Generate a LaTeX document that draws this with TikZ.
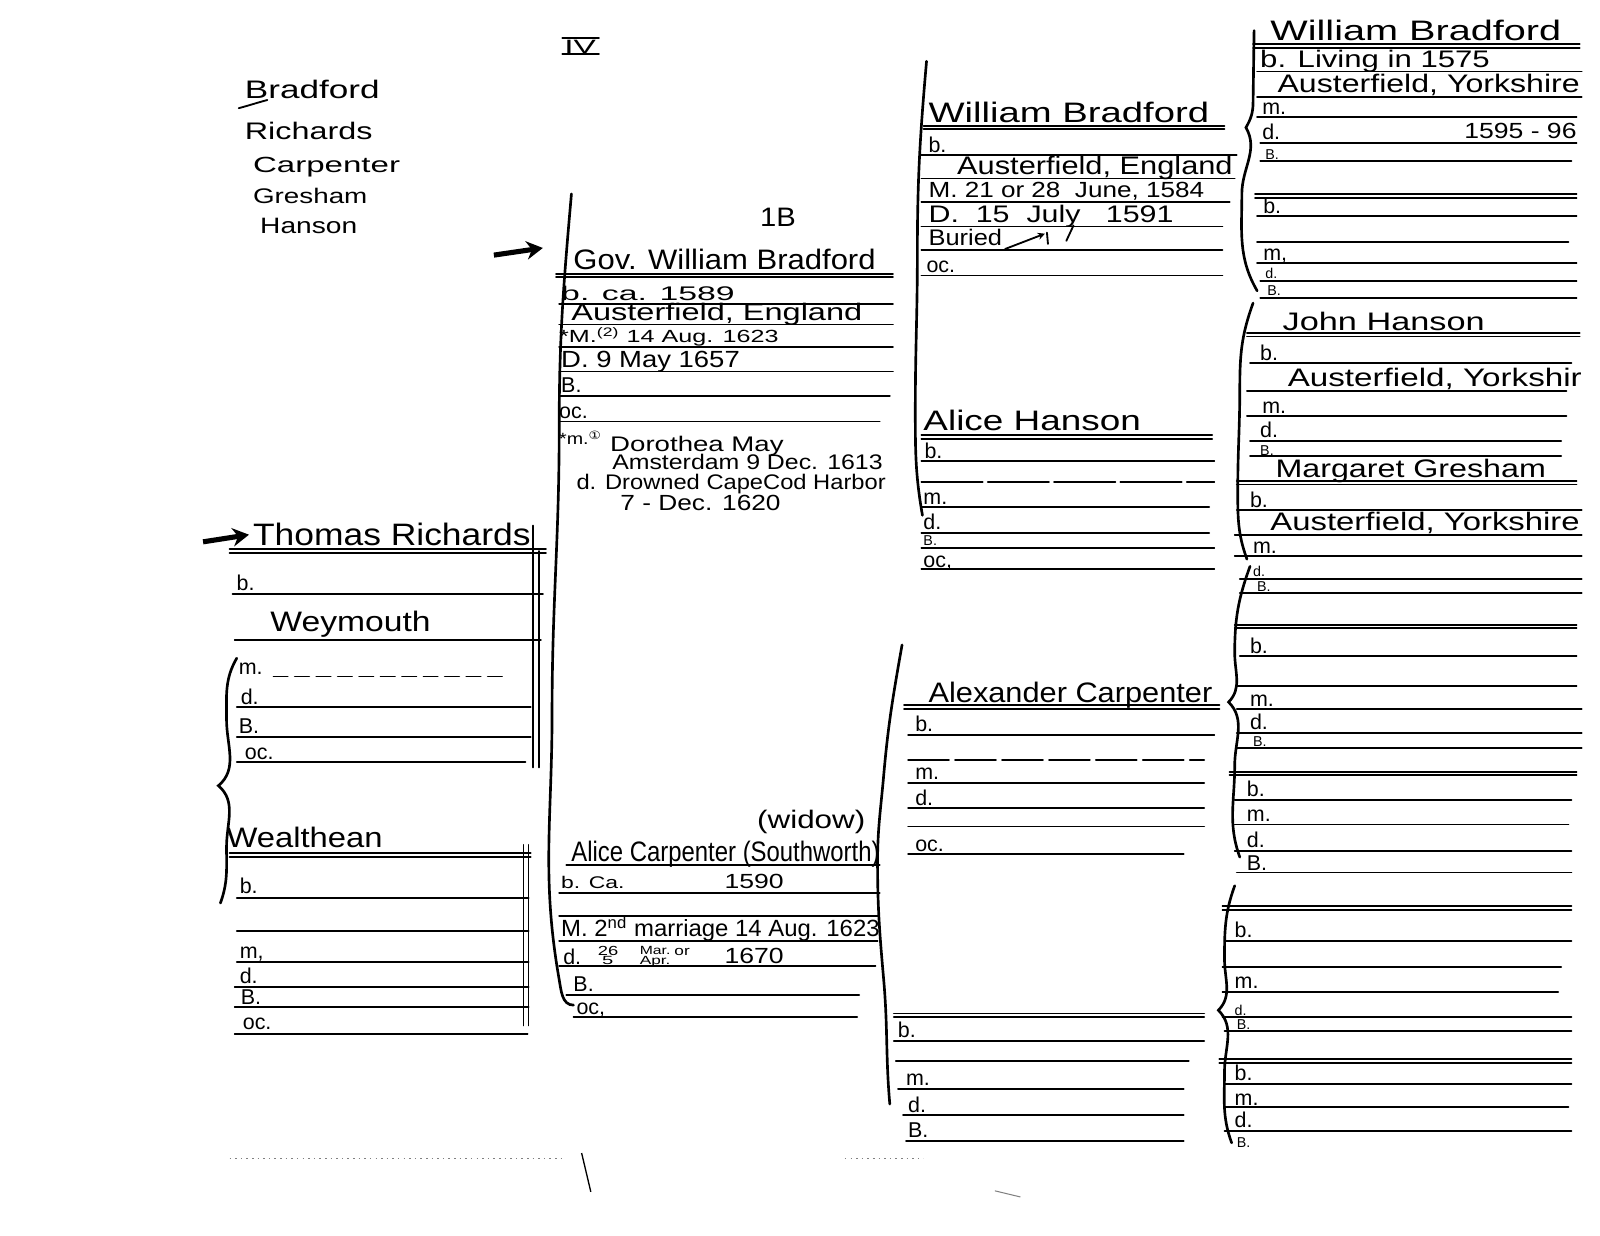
\documentclass[tikz,border=0pt]{standalone}
\usepackage{fontspec}
\usepackage{graphicx}
\setmainfont{Liberation Sans}
\newfontfamily\symf{DejaVu Sans}
\usetikzlibrary{arrows.meta}
\tikzset{
  pfrule/.style={line width=1.8pt, line cap=round, black},
  pfbrk/.style={line width=2.6pt, line cap=round, black},
  pfhw/.style={anchor=base west, inner sep=0pt, outer sep=0pt},
  pflb/.style={anchor=base west, inner sep=0pt, outer sep=0pt, font=\fontsize{21}{21}\selectfont},
  pflbs/.style={anchor=base west, inner sep=0pt, outer sep=0pt, font=\fontsize{14}{14}\selectfont},
  pfarrow/.style={line width=5pt, -{Stealth[length=16pt,width=18pt]}},
  pfdust/.style={gray, line width=1pt, dash pattern=on 1.5pt off 4pt}
}
\newcommand\pfline[3]{\draw[pfrule] (#1,#3) -- (#2,#3);}
\newcommand\pfdbl[3]{\draw[pfrule] (#1,#3-1.8) -- (#2,#3-1.8); \draw[pfrule] (#1,#3+1.8) -- (#2,#3+1.8);}
\newcommand\pftxt[6]{\node[pfhw] (#1) at (#2,#3) {\resizebox{#4pt}{#5pt}{#6}};}
\newcommand\pflab[4]{\node[pflb] (#1) at (#2,#3) {#4};}
\newcommand\pflabs[4]{\node[pflbs] (#1) at (#2,#3) {#4};}
\begin{document}
\begin{tikzpicture}[x=1pt,y=-1pt]
\useasboundingbox (0,0) rectangle (1568,1211);
\fill[white] (0,0) rectangle (1568,1211);

% ---------- top-left surname list ----------
\pftxt{sBrad}{240}{97}{132}{18}{Bradford}
\draw[pfrule] (234,106) to[out=15,in=195] (262,98);
\pftxt{sRich}{240}{137}{125}{17}{Richards}
\pftxt{sCarp}{248}{169}{144}{15}{Carpenter}
\pftxt{sGres}{248}{199}{112}{15}{Gresham}
\pftxt{sHans}{255}{229}{95}{15}{Hanson}
\pftxt{roman}{553}{52}{31}{13}{IV}
\draw[pfrule] (551,37) -- (587,37);
\draw[pfrule] (551,53) -- (587,53);

% ---------- arrows ----------
\coordinate (a1s) at (484,250);
\coordinate (a1e) at (532,243);
\draw[pfarrow] (a1s) -- (a1e);
\coordinate (a2s) at (199,531);
\coordinate (a2e) at (244,524);
\draw[pfarrow] (a2s) -- (a2e);

% ---------- column 1 : Thomas Richards ----------
\pftxt{thomas}{248}{535}{272}{22}{Thomas Richards}
\pfdbl{225}{535}{540}
\draw[pfrule] (522,515) -- (522,752);
\draw[pfrule] (528,540) -- (528,752);
\pflab{t1b}{232}{579}{b.}
\pfline{228}{532}{582}
\pftxt{weym}{265}{619}{157}{20}{Weymouth}
\pfline{230}{530}{627}
\pflab{t1m}{234}{661}{m.}
\draw[pfrule, dash pattern=on 14pt off 7pt] (268,663) -- (495,663);
\pflab{t1d}{236}{690}{d.}
\pfline{232}{520}{693}
\pflab{t1B}{234}{719}{B.}
\pfline{232}{520}{722}
\pflab{t1oc}{240}{744}{oc.}
\pfline{232}{515}{747}
\draw[pfbrk] (232,645) to[out=-120,in=90] (222,705) to[out=-90,in=40] (214,770)
   to[out=-40,in=90] (222,830) to[out=-90,in=70] (216,885);

% ---------- column 1 : Wealthean ----------
\pftxt{wealth}{222}{831}{153}{20}{Wealthean}
\pfdbl{225}{520}{838}
\draw[pfrule] (513,828) -- (513,1005);
\draw[pfrule] (518,828) -- (518,1005);
\pflab{w1b}{235}{876}{b.}
\pfline{232}{518}{880}
\pfline{232}{518}{912}
\pflab{w1m}{235}{939}{m,}
\pfline{232}{518}{943}
\pflab{w1d}{235}{964}{d.}
\pfline{230}{518}{967}
\pflab{w1B}{236}{984}{B.}
\pfline{230}{518}{987}
\pflab{w1oc}{238}{1009}{oc.}
\pfline{230}{517}{1013}

% ---------- column 2 ----------
\draw[pfbrk] (560,190) to[out=-95,in=90] (548,420) to[out=-90,in=90] (541,700)
   to[out=-90,in=100] (548,960) to[out=-80,in=180] (562,985);
\pftxt{oneB}{745}{222}{35}{18}{1B}
\pftxt{gov}{562}{264}{296}{20}{Gov. William Bradford}
\pfdbl{545}{875}{270}
\pftxt{g1b}{550}{294}{170}{14}{b. ca. 1589}
\pfline{548}{875}{298}
\pftxt{g1p}{560}{314}{285}{17}{Austerfield, England}
\pfline{548}{875}{318}
\pftxt{g1m}{548}{336}{215}{15}{*M.\textsuperscript{(2)} 14 Aug. 1623}
\pfline{548}{875}{340}
\pftxt{g1d}{550}{360}{175}{16}{D. 9 May 1657}
\pfline{548}{875}{364}
\pflab{g1B}{550}{385}{B.}
\pfline{548}{872}{388}
\pflab{g1oc}{548}{410}{oc.}
\pfline{548}{862}{413}
\pftxt{g1m1}{548}{436}{42}{14}{*m.\textsuperscript{{\symf ①}}}
\pftxt{g1dm}{598}{442}{170}{15}{Dorothea May}
\pftxt{g1am}{600}{460}{265}{15}{Amsterdam 9 Dec. 1613}
\pftxt{g1dr}{565}{480}{303}{15}{d. Drowned CapeCod Harbor}
\pftxt{g1dd}{608}{500}{157}{15}{7 - Dec. 1620}

\pftxt{widow}{742}{812}{106}{18}{(widow)}
\pftxt{alicec}{560}{844}{302}{20}{Alice Carpenter (Southworth)}
\pfline{555}{862}{848}
\pftxt{a1b}{550}{871}{62}{12}{b. Ca.}
\pftxt{a1y}{710}{871}{58}{14}{1590}
\pfline{548}{862}{875}
\pfline{548}{860}{898}
\pftxt{a1m}{550}{918}{312}{20}{M. 2\textsuperscript{nd} marriage 14 Aug. 1623}
\pfline{548}{860}{922}
\pflab{a1d}{552}{945}{d.}
\pftxt{a1d26}{586}{936}{20}{9}{26}
\pftxt{a1d5}{590}{945}{11}{8}{5}
\pftxt{a1mar}{627}{935}{30}{8}{Mar.}
\pftxt{a1or}{661}{936}{15}{7}{or}
\pftxt{a1apr}{627}{945}{30}{8}{Apr.}
\pftxt{a1y2}{710}{944}{58}{15}{1670}
\pfline{548}{858}{947}
\pflab{a1B}{562}{972}{B.}
\pfline{555}{842}{975}
\pflab{a1oc}{565}{994}{oc,}
\pfline{562}{840}{997}

% ---------- column 3 ----------
\draw[pfbrk] (908,60) to[out=-95,in=90] (899,250) to[out=-90,in=90] (897,400)
   to[out=-90,in=100] (904,505);
\pftxt{wb2}{910}{120}{275}{20}{William Bradford}
\pfdbl{905}{1200}{125}
\pflab{wb2b}{910}{149}{b.}
\pfline{903}{1212}{152}
\pftxt{wb2p}{938}{171}{270}{18}{Austerfield, England}
\pfline{903}{1210}{175}
\pftxt{wb2m}{910}{194}{270}{15}{M. 21 or 28 \ June, 1584}
\pfline{903}{1205}{198}
\pftxt{wb2d}{910}{218}{240}{17}{D. \ 15 \ July \ \ 1591}
\pfline{903}{1198}{222}
\pftxt{wb2bu}{910}{241}{72}{16}{Buried}
\coordinate (bua) at (985,244);
\coordinate (bub) at (1024,229);
\draw[pfrule, -{Stealth[length=7pt,width=7pt]}] (bua) -- (bub);
\draw[pfrule] (1026,228) -- (1027,239);
\draw[pfrule] (1052,221) -- (1045,236);
\pfline{903}{1198}{245}
\pflab{wb2oc}{908}{267}{oc.}
\pfline{903}{1198}{270}

\pftxt{aliceh}{905}{422}{213}{20}{Alice Hanson}
\pfdbl{903}{1188}{428}
\pflab{ah2b}{906}{449}{b.}
\pfline{903}{1190}{452}
\draw[pfrule, dash pattern=on 60pt off 5pt] (903,472) -- (1190,472);
\pflab{ah2m}{905}{494}{m.}
\pfline{903}{1185}{497}
\pflab{ah2d}{905}{519}{d.}
\pfline{903}{1185}{522}
\pflabs{ah2B}{905}{535}{B.}
\pfline{903}{1190}{537}
\pflab{ah2oc}{905}{556}{oc,}
\pfline{903}{1190}{558}

\draw[pfbrk] (884,632) to[out=-100,in=85] (866,760) to[out=-95,in=90] (860,845)
   to[out=-90,in=95] (866,960) to[out=-85,in=95] (872,1082);
\pftxt{alexc}{910}{688}{278}{20}{Alexander Carpenter}
\pfdbl{886}{1195}{693}
\pflab{ac2b}{897}{717}{b.}
\pfline{890}{1190}{720}
\draw[pfrule, dash pattern=on 40pt off 6pt] (890,745) -- (1180,745);
\pflab{ac2m}{897}{764}{m.}
\pfline{890}{1180}{767}
\pflab{ac2d}{897}{789}{d.}
\pfline{890}{1180}{792}
\pfline{890}{1180}{810}
\pflab{ac2oc}{897}{834}{oc.}
\pfline{890}{1160}{837}

\pfdbl{876}{1180}{995}
\pflab{bx2b}{880}{1017}{b.}
\pfline{876}{1180}{1020}
\pfline{878}{1165}{1040}
\pflab{bx2m}{888}{1064}{m.}
\pfline{880}{1160}{1067}
\pflab{bx2d}{890}{1090}{d.}
\pfline{885}{1160}{1093}
\pflab{bx2B}{890}{1115}{B.}
\pfline{888}{1160}{1118}

% ---------- column 4 ----------
\draw[pfbrk] (1229,30) -- (1228,100) to[out=-90,in=60] (1221,125)
   to[out=-60,in=90] (1217,190) to[out=-90,in=120] (1232,285);
\pftxt{wb3}{1245}{40}{285}{20}{William Bradford}
\pfdbl{1228}{1548}{45}
\pftxt{wb3b}{1235}{66}{225}{17}{b. Living in 1575}
\pfline{1232}{1550}{70}
\pftxt{wb3p}{1252}{91}{296}{18}{Austerfield, Yorkshire}
\pfline{1232}{1550}{95}
\pflab{wb3m}{1237}{112}{m.}
\pfline{1232}{1545}{115}
\pflab{wb3d}{1237}{137}{d.}
\pftxt{wb3dd}{1435}{136}{110}{15}{1595 - 96}
\pfline{1235}{1545}{140}
\pflabs{wb3B}{1240}{156}{B.}
\pfline{1235}{1540}{158}

\pfdbl{1230}{1545}{192}
\pflab{u1b}{1238}{209}{b.}
\pfline{1232}{1545}{212}
\pfline{1232}{1537}{237}
\pflab{u1m}{1238}{255}{m,}
\pfline{1232}{1545}{258}
\pflabs{u1d}{1240}{273}{d.}
\pfline{1235}{1545}{275}
\pflabs{u1B}{1242}{290}{B.}
\pfline{1235}{1545}{292}

\draw[pfbrk] (1228,297) to[out=-110,in=90] (1215,380) to[out=-90,in=90] (1213,480)
   to[out=-90,in=110] (1222,548);
\pftxt{johnh}{1257}{324}{198}{18}{John Hanson}
\pfdbl{1222}{1548}{328}
\pflab{jh3b}{1235}{353}{b.}
\pfline{1225}{1540}{356}
\pftxt{jh3p}{1262}{379}{288}{18}{Austerfield, Yorkshir}
\pfline{1222}{1535}{383}
\pflab{jh3m}{1237}{405}{m.}
\pfline{1222}{1535}{408}
\pflab{jh3d}{1235}{429}{d.}
\pfline{1225}{1530}{432}
\pflabs{jh3B}{1235}{446}{B.}
\pfline{1225}{1530}{447}

\pftxt{margg}{1250}{468}{265}{18}{Margaret Gresham}
\pfdbl{1212}{1545}{473}
\pflab{mg3b}{1225}{497}{b.}
\pfline{1212}{1550}{500}
\pftxt{mg3p}{1245}{520}{303}{18}{Austerfield, Yorkshire}
\pfline{1210}{1550}{524}
\pflab{mg3m}{1228}{542}{m.}
\pfline{1210}{1550}{545}
\pflabs{mg3d}{1228}{565}{d.}
\pfline{1215}{1550}{567}
\pflabs{mg3B}{1232}{580}{B.}
\pfline{1215}{1550}{581}

\draw[pfbrk] (1225,555) to[out=-110,in=90] (1210,640) to[out=-90,in=45] (1204,688)
   to[out=-45,in=90] (1210,750) to[out=-90,in=110] (1215,840);
\pfdbl{1210}{1545}{614}
\pflab{e4b}{1225}{640}{b.}
\pfline{1215}{1545}{643}
\pfline{1212}{1545}{672}
\pflab{e4m}{1225}{692}{m.}
\pfline{1212}{1550}{695}
\pflab{e4d}{1225}{715}{d.}
\pfline{1212}{1550}{718}
\pflabs{e4B}{1228}{732}{B.}
\pfline{1212}{1550}{733}

\pfdbl{1205}{1545}{758}
\pflab{f4b}{1222}{781}{b.}
\pfline{1210}{1540}{784}
\pflab{f4m}{1222}{805}{m.}
\pfline{1210}{1537}{808}
\pflab{f4d}{1222}{831}{d.}
\pfline{1210}{1540}{834}
\pflab{f4B}{1222}{853}{B.}
\pfline{1212}{1540}{855}

\draw[pfbrk] (1210,868) to[out=-110,in=90] (1200,940) to[out=-90,in=45] (1194,990)
   to[out=-45,in=90] (1200,1050) to[out=-90,in=110] (1207,1120);
\pfdbl{1198}{1540}{890}
\pflab{g4b}{1210}{919}{b.}
\pfline{1200}{1540}{922}
\pfline{1198}{1530}{948}
\pflab{g4m}{1210}{969}{m.}
\pfline{1198}{1527}{972}
\pflabs{g4d}{1210}{995}{d.}
\pfline{1198}{1540}{997}
\pflabs{g4B}{1212}{1009}{B.}
\pfline{1200}{1540}{1010}

\pfdbl{1195}{1540}{1040}
\pflab{h4b}{1210}{1059}{b.}
\pfline{1200}{1540}{1062}
\pflab{h4m}{1210}{1083}{m.}
\pfline{1200}{1537}{1085}
\pflab{h4d}{1210}{1105}{d.}
\pfline{1200}{1540}{1108}
\pflabs{h4B}{1212}{1125}{B.}

% ---------- scan marks at the foot ----------
\draw[pfdust] (225,1135) -- (550,1135);
\draw[pfdust] (828,1135) -- (905,1135);
\draw[line width=1.3pt] (570,1130) -- (579,1168);
\draw[gray, line width=1pt] (975,1167) -- (1000,1173);
\end{tikzpicture}
\end{document}
